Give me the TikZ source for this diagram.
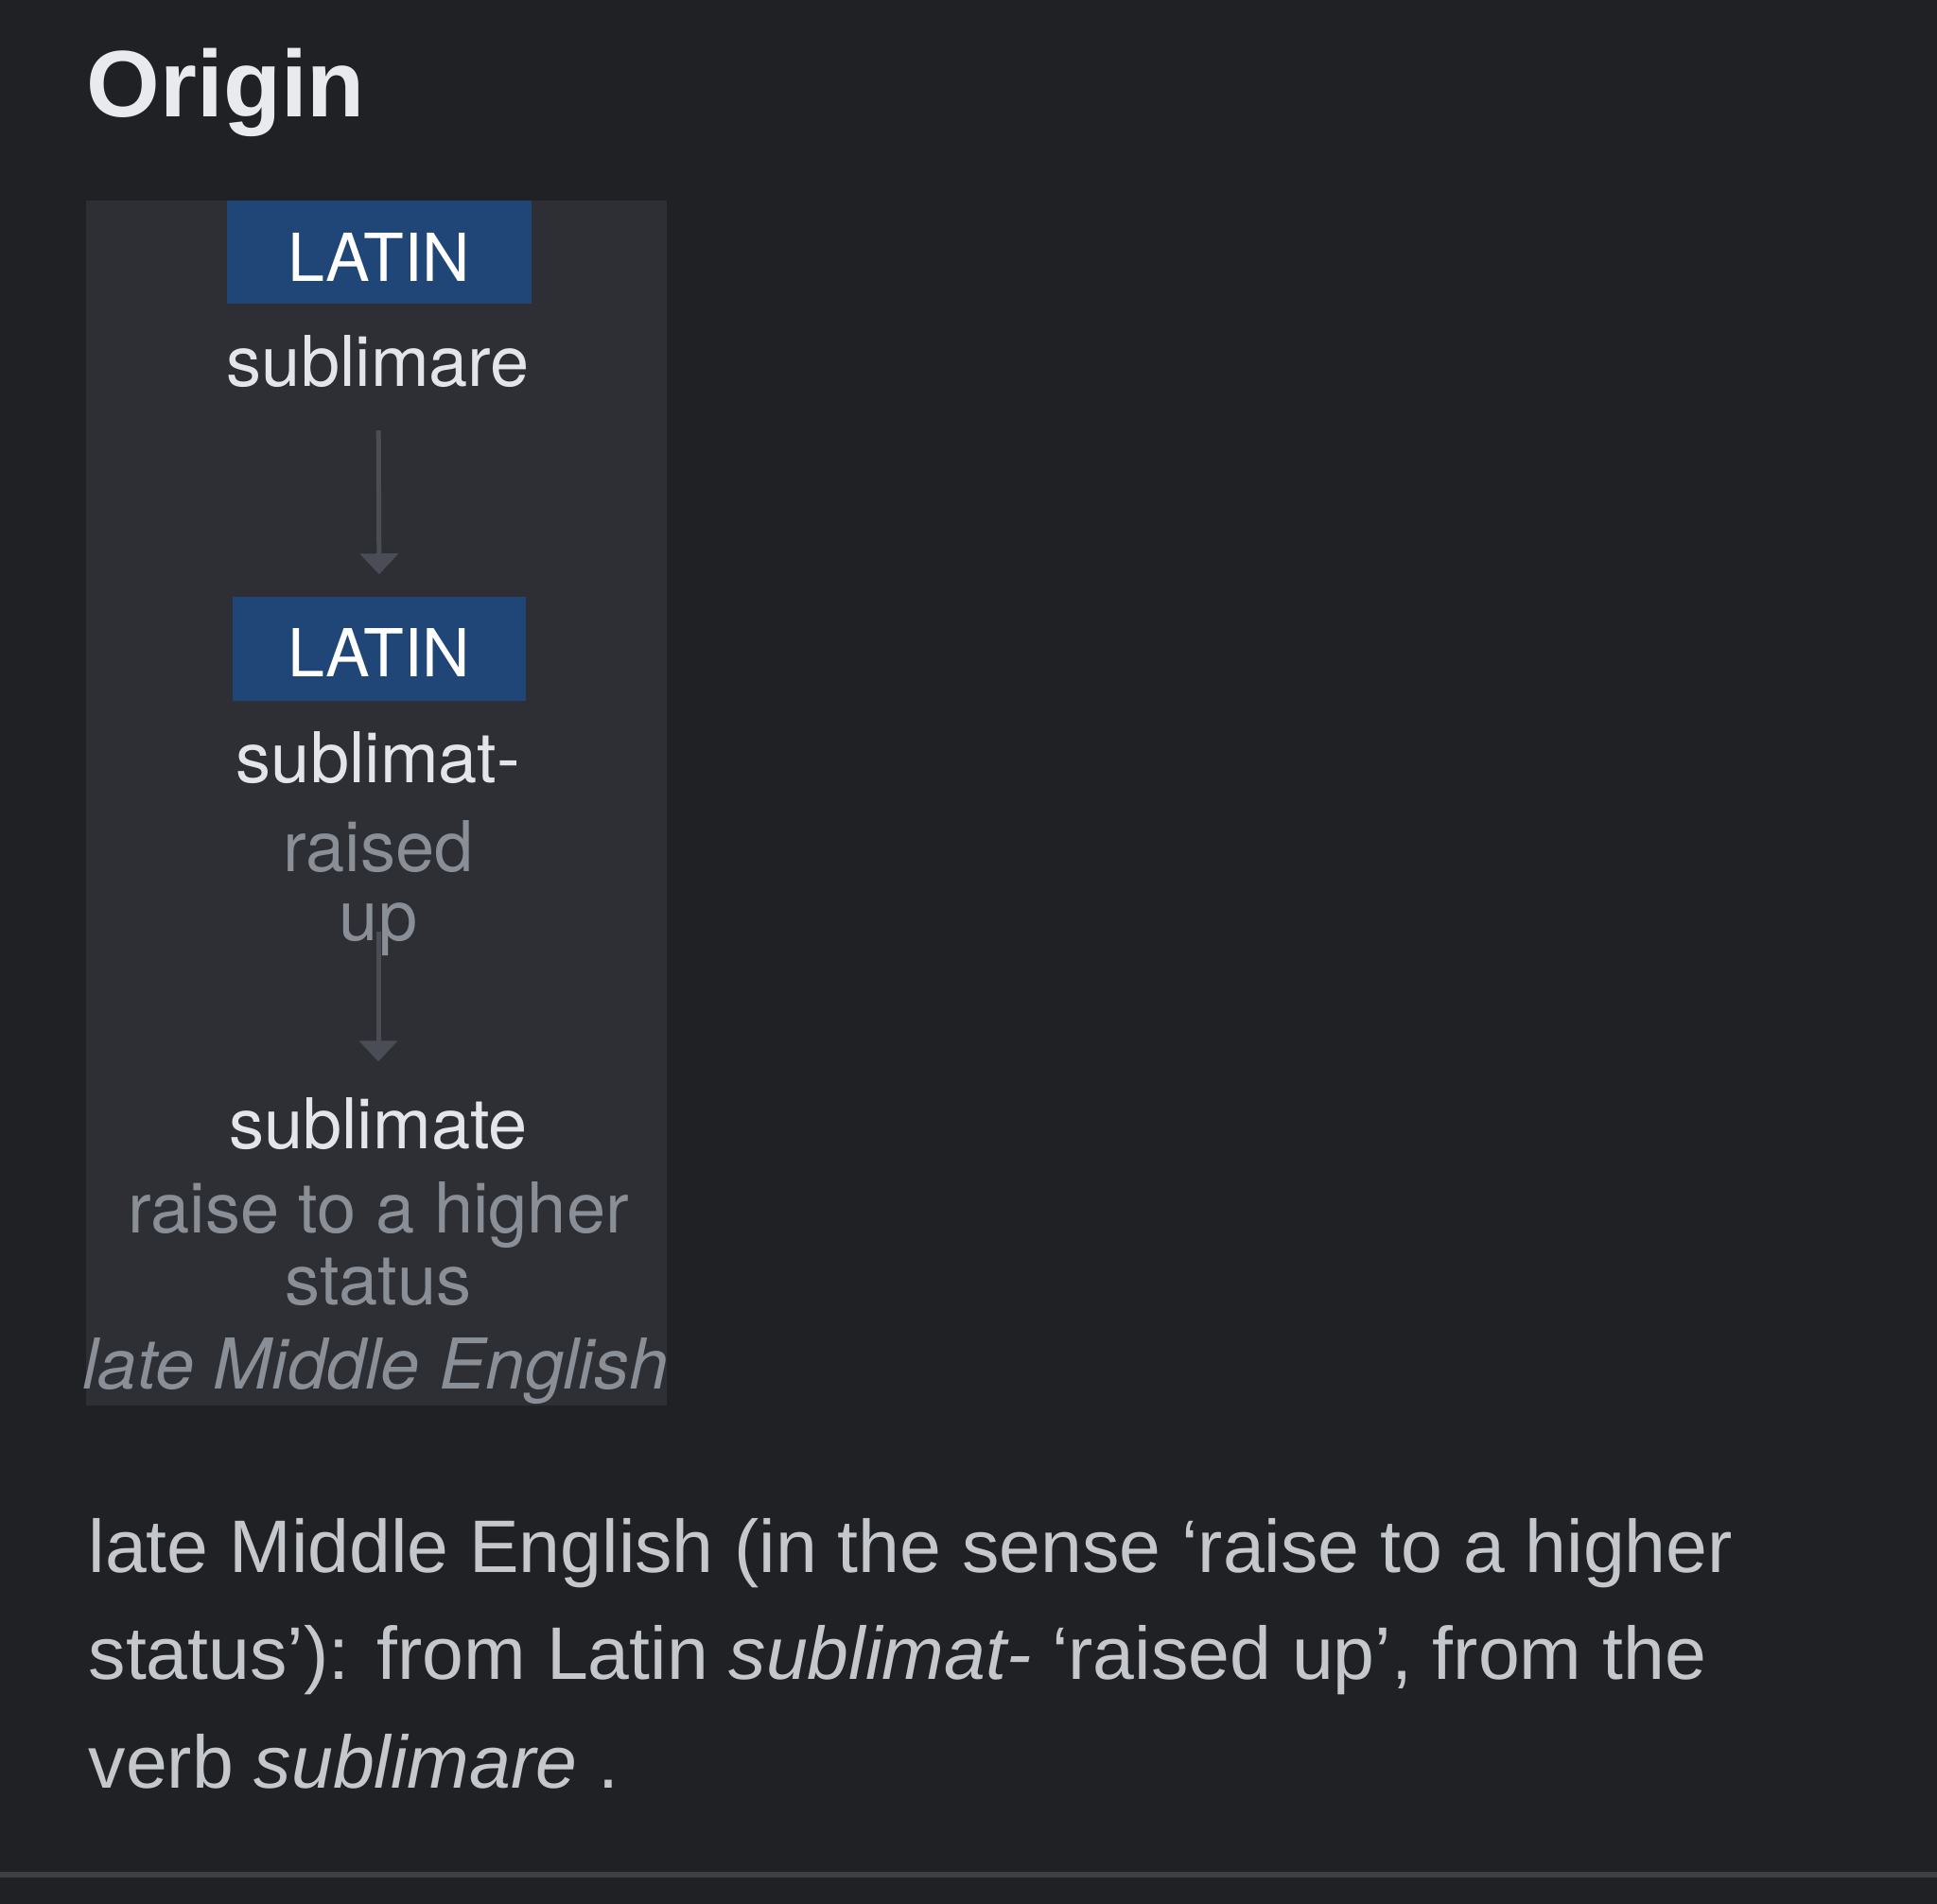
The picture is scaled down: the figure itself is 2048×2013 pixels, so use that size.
\documentclass[tikz,border=0pt]{standalone}
\usepackage{fontspec}
\setmainfont{Liberation Sans}
\newfontfamily\heros{TeX Gyre Heros}
\usetikzlibrary{arrows.meta}
\definecolor{bgc}{HTML}{202124}
\definecolor{panelc}{HTML}{2E2F34}
\definecolor{boxc}{HTML}{1F4677}
\definecolor{wordc}{HTML}{E3E5EA}
\definecolor{glossc}{HTML}{8A8E96}
\definecolor{arrowc}{HTML}{4A4D55}
\definecolor{titlec}{HTML}{E8EAED}
\definecolor{parac}{HTML}{C4C7CC}
\definecolor{sepc}{HTML}{3C4043}
\tikzset{
  langbox/.style={fill=boxc, draw=none, inner sep=0pt},
  langtxt/.style={anchor=base, inner sep=0pt, text=white, font=\heros\fontsize{19.9pt}{24pt}\selectfont},
  wordtxt/.style={anchor=base, inner sep=0pt, text=wordc, font=\heros\fontsize{21.05pt}{25pt}\selectfont},
  glosstxt/.style={anchor=base, inner sep=0pt, text=glossc, font=\heros\fontsize{21.05pt}{25pt}\selectfont},
  flow/.style={draw=arrowc, line width=0.05cm, -{Triangle[width=0.4cm,length=0.22cm]}},
  paratxt/.style={anchor=base west, inner sep=0pt, text=parac, font=\fontsize{22.4pt}{27pt}\selectfont},
}
\begin{document}
\begin{tikzpicture}[x=0.01cm, y=-0.01cm]
\fill[bgc] (0,0) rectangle (2048,2013);
\useasboundingbox (0,0) rectangle (2048,2013);
\fill[sepc] (0,1979) rectangle (2048,1985);

\node[anchor=base west, inner sep=0pt, text=titlec, font=\bfseries\fontsize{28.4pt}{34pt}\selectfont] (title) at (91,124) {Origin};

\fill[panelc] (91,212) rectangle (705,1486);

\node[langbox, minimum width=3.22cm, minimum height=1.09cm] (box1) at (401,266.5) {};
\node[langtxt] (lat1) at (401,298) {LATIN};
\node[wordtxt] (sublimare) at (400,409) {sublimare};

\node[langbox, minimum width=3.10cm, minimum height=1.10cm] (box2) at (401,686) {};
\node[langtxt] (lat2) at (401,716) {LATIN};
\node[wordtxt] (sublimat) at (400,828) {sublimat-};
\node[glosstxt] (raised) at (400,922) {raised};
\node[glosstxt] (up) at (400,995) {up};

\node[wordtxt] (sublimate) at (400,1215) {sublimate};
\node[glosstxt] (raise) at (400,1304) {raise to a higher};
\node[glosstxt] (status) at (400,1379) {status};
\node[glosstxt, font=\heros\itshape\fontsize{21.05pt}{25pt}\selectfont] (lme) at (397,1468) {late Middle English};

\draw[flow, shorten <=0.46cm, shorten >=0.23cm] (sublimare.base) -- (box2.north);
\draw[flow, shorten <=-0.1cm, shorten >=0.38cm] (up.base) -- (sublimate.north);

\node[paratxt] (p1) at (93,1662) {late Middle English (in the sense ‘raise to a higher};
\node[paratxt] (p2) at (93,1775) {status’): from Latin \textit{sublimat-} ‘raised up’, from the};
\node[paratxt] (p3) at (93,1890) {verb \textit{sublimare} .};
\end{tikzpicture}
\end{document}
